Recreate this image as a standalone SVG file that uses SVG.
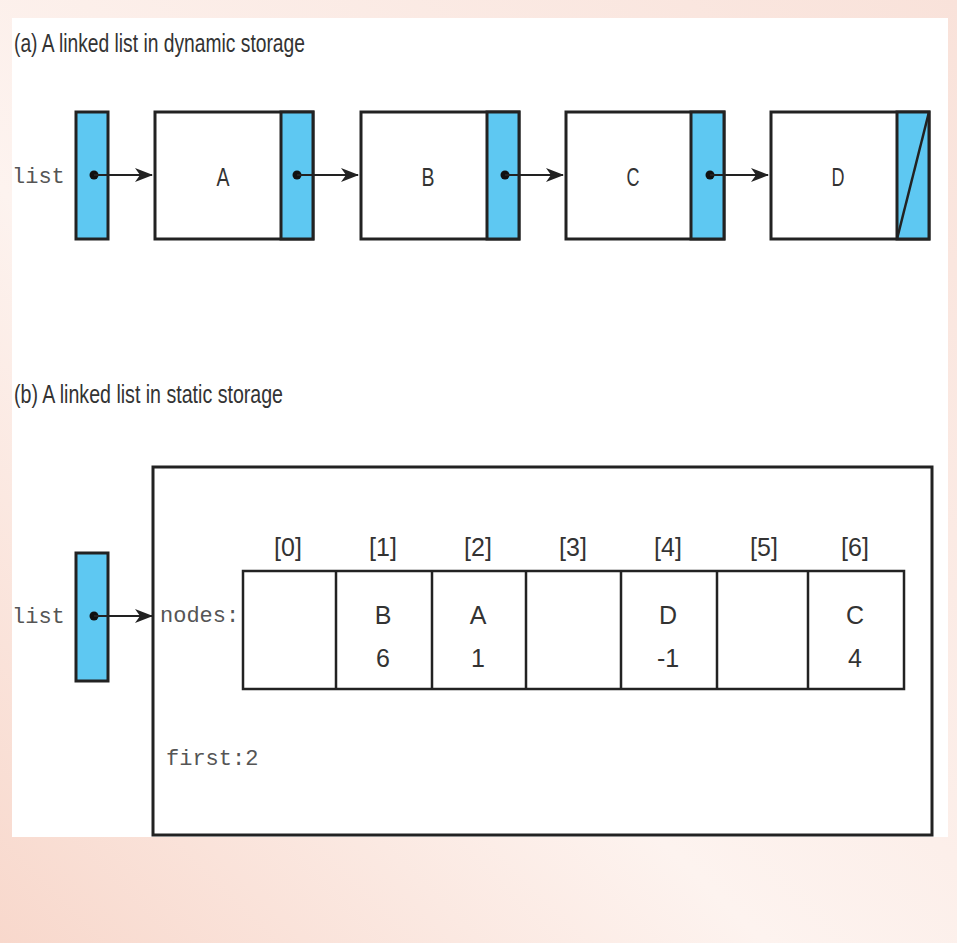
<svg xmlns="http://www.w3.org/2000/svg" width="957" height="943" viewBox="0 0 957 943">
<defs>
<linearGradient id="bg" x1="0" y1="1" x2="1" y2="0">
<stop offset="0" stop-color="#f8d8cc"/><stop offset="0.4" stop-color="#fdf3ef"/><stop offset="1" stop-color="#f9e2da"/>
</linearGradient>
<marker id="ah" markerWidth="18" markerHeight="14" refX="17" refY="7" orient="auto" markerUnits="userSpaceOnUse">
<path d="M0,0 L18,7 L0,14 L5,7 Z" fill="#222"/>
</marker>
</defs>
<style>
.box{fill:#fff;stroke:#222;stroke-width:3}
.ptr{fill:#5ec8f2;stroke:#222;stroke-width:3}
.cell{fill:none;stroke:#222;stroke-width:2.5}
.t{font-family:"Liberation Sans",sans-serif;font-size:25px;fill:#333;text-anchor:middle}
.title{font-family:"Liberation Sans",sans-serif;font-size:25px;fill:#333}
.m{font-family:"Liberation Mono",monospace;font-size:22px;fill:#555}
.c{stroke:#222;stroke-width:1.8;fill:none;marker-end:url(#ah)}
</style>
<rect width="957" height="943" fill="url(#bg)"/>
<rect x="12" y="18" width="936" height="819" fill="#fff"/>
<text class="title" x="14" y="52" textLength="291" lengthAdjust="spacingAndGlyphs">(a) A linked list in dynamic storage</text>
<text class="title" x="14" y="403" textLength="269" lengthAdjust="spacingAndGlyphs">(b) A linked list in static storage</text>
<g id="list-a"><text class="m" x="12" y="183">list</text><rect class="ptr" x="76" y="112" width="32" height="127"/></g>
<g id="nodeA"><rect class="box" x="155" y="112" width="158" height="127"/><rect class="ptr" x="281" y="112" width="32" height="127"/><text class="t" x="223" y="186" textLength="13" lengthAdjust="spacingAndGlyphs">A</text></g>
<g id="nodeB"><rect class="box" x="361" y="112" width="158" height="127"/><rect class="ptr" x="487" y="112" width="32" height="127"/><text class="t" x="428" y="186" textLength="13" lengthAdjust="spacingAndGlyphs">B</text></g>
<g id="nodeC"><rect class="box" x="566" y="112" width="158" height="127"/><rect class="ptr" x="691" y="112" width="33" height="127"/><text class="t" x="633" y="186" textLength="13" lengthAdjust="spacingAndGlyphs">C</text></g>
<g id="nodeD"><rect class="box" x="771" y="112" width="158" height="127"/><rect class="ptr" x="897" y="112" width="32" height="127"/><line x1="897" y1="239" x2="929" y2="112" stroke="#222" stroke-width="2.5"/><text class="t" x="838" y="186" textLength="13" lengthAdjust="spacingAndGlyphs">D</text></g>
<g id="static">
<rect class="box" x="153" y="467" width="779" height="368" fill="none"/>
<text class="m" x="160" y="622">nodes:</text>
<text class="m" x="166" y="765">first:2</text>
<rect class="cell" x="243" y="571" width="661" height="118"/>
<path class="cell" d="M336,571V689M432,571V689M526,571V689M621,571V689M717,571V689M808,571V689"/>
<g class="t">
<text x="288" y="556">[0]</text><text x="383" y="556">[1]</text><text x="478" y="556">[2]</text><text x="573" y="556">[3]</text><text x="668" y="556">[4]</text><text x="764" y="556">[5]</text><text x="855" y="556">[6]</text>
<text x="383" y="624">B</text><text x="383" y="667">6</text>
<text x="478" y="624">A</text><text x="478" y="667">1</text>
<text x="668" y="624">D</text><text x="668" y="667">-1</text>
<text x="855" y="624">C</text><text x="855" y="667">4</text>
</g>
</g>
<g id="list-b"><text class="m" x="12" y="623">list</text><rect class="ptr" x="76" y="553" width="32" height="128"/></g>
<g id="connectors" fill="#111">
<circle cx="94" cy="175" r="4.5"/><line class="c" x1="94" y1="175" x2="152" y2="175"/>
<circle cx="297" cy="175" r="4.5"/><line class="c" x1="297" y1="175" x2="358" y2="175"/>
<circle cx="505" cy="175" r="4.5"/><line class="c" x1="505" y1="175" x2="563" y2="175"/>
<circle cx="710" cy="175" r="4.5"/><line class="c" x1="710" y1="175" x2="768" y2="175"/>
<circle cx="94" cy="616" r="4.5"/><line class="c" x1="94" y1="616" x2="152" y2="616"/>
</g>
</svg>
